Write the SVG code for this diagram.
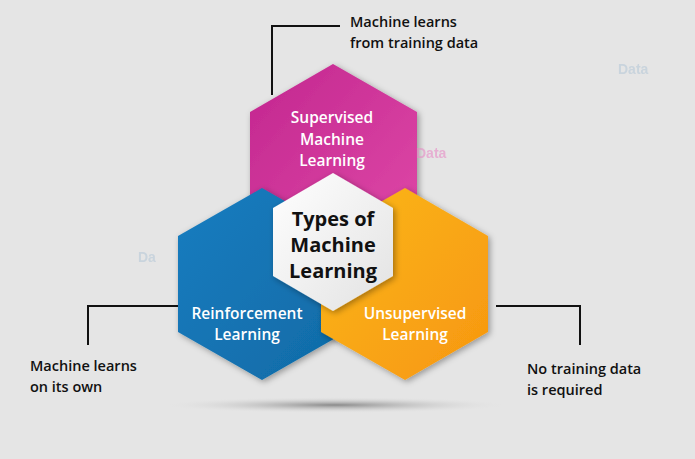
<svg xmlns="http://www.w3.org/2000/svg" width="695" height="459" viewBox="0 0 695 459">
<defs>
<linearGradient id="gm" x1="0" y1="0" x2="1" y2="1"><stop offset="0" stop-color="#c2268f"/><stop offset="1" stop-color="#e04aa8"/></linearGradient>
<linearGradient id="gb" x1="0" y1="0" x2="1" y2="1"><stop offset="0" stop-color="#1a7dc0"/><stop offset="1" stop-color="#0f6aa6"/></linearGradient>
<linearGradient id="go" x1="0" y1="0" x2="1" y2="1"><stop offset="0" stop-color="#fbb81c"/><stop offset="1" stop-color="#f7960f"/></linearGradient>
<linearGradient id="gw" x1="0" y1="0" x2="1" y2="1"><stop offset="0" stop-color="#ffffff"/><stop offset="1" stop-color="#e2e2e2"/></linearGradient>
<radialGradient id="sh"><stop offset="0" stop-color="#8a8a8a"/><stop offset="1" stop-color="#e0e0e0" stop-opacity="0"/></radialGradient>
<filter id="ds" x="-20%" y="-20%" width="140%" height="140%"><feDropShadow dx="2" dy="2" stdDeviation="3" flood-opacity="0.35"/></filter>
</defs>
<style>
.w{font-family:"Open Sans","Liberation Sans",sans-serif;font-weight:600;font-size:15.5px;fill:#fff;text-anchor:middle}
.c{font-family:"Open Sans","Liberation Sans",sans-serif;font-weight:700;font-size:20px;fill:#111;text-anchor:middle}
.n{font-family:"Open Sans","Liberation Sans",sans-serif;font-weight:600;font-size:14.5px;fill:#111}
.l{fill:none;stroke:#111;stroke-width:2}
.wm{font-family:"Liberation Sans",sans-serif;font-weight:700;font-size:14px;fill:#b7c9d8;opacity:0.6}
</style>
<rect width="695" height="459" fill="#e5e5e5"/>
<ellipse cx="335" cy="405" rx="170" ry="8" fill="url(#sh)"/>
<text class="wm" x="618" y="74">Data</text>
<text class="wm" x="138" y="262">Da</text>
<g id="connectors">
<polyline class="l" points="272,95 272,26 340,26"/>
<polyline class="l" points="178,306 88,306 88,345"/>
<polyline class="l" points="496,306 580,306 580,345"/>
</g>
<g id="labels">
<text class="n" x="350" y="27">Machine learns</text>
<text class="n" x="350" y="48">from training data</text>
<text class="n" x="30" y="371">Machine learns</text>
<text class="n" x="30" y="392">on its own</text>
<text class="n" x="527" y="374">No training data</text>
<text class="n" x="527" y="395">is required</text>
</g>
<g id="supervised">
<polygon points="333,64 417,112 417,208 333,256 250,208 250,112" fill="url(#gm)" filter="url(#ds)"/>
<text class="w" x="332" y="123">Supervised</text>
<text class="w" x="332" y="145">Machine</text>
<text class="w" x="332" y="166">Learning</text>
<text class="wm" x="416" y="158" style="fill:#e78cc6">Data</text>
</g>
<g id="reinforcement">
<polygon points="262,188 346,236 346,332 262,380 178,332 178,236" fill="url(#gb)" filter="url(#ds)"/>
<text class="w" x="247" y="319">Reinforcement</text>
<text class="w" x="247" y="340">Learning</text>
</g>
<g id="unsupervised">
<polygon points="405,188 488,236 488,332 405,380 321,332 321,236" fill="url(#go)" filter="url(#ds)"/>
<text class="w" x="415" y="319">Unsupervised</text>
<text class="w" x="415" y="340">Learning</text>
</g>
<g id="center">
<polygon points="333,173 393,208 393,276 333,311 273,276 273,208" fill="url(#gw)" filter="url(#ds)"/>
<text class="c" x="333" y="226">Types of</text>
<text class="c" x="333" y="252">Machine</text>
<text class="c" x="333" y="278">Learning</text>
</g>
</svg>
